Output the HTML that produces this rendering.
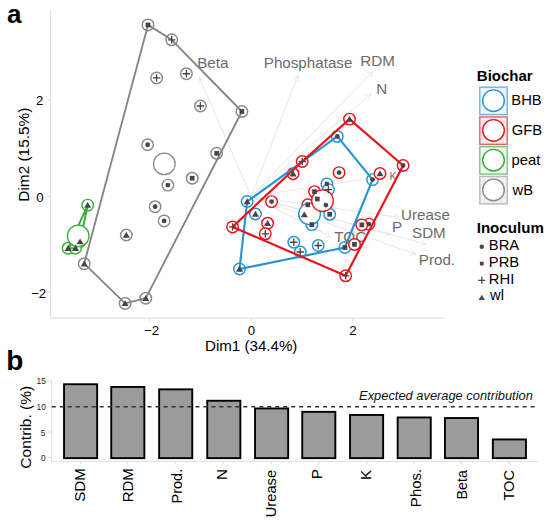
<!DOCTYPE html><html><head><meta charset="utf-8"><style>html,body{margin:0;padding:0;background:#fff;}svg{display:block;}text{font-family:"Liberation Sans",sans-serif;}</style></head><body>
<svg width="550" height="523" viewBox="0 0 550 523">
<rect width="550" height="523" fill="#fff"/>
<text x="7.02" y="22.55" font-size="26" font-weight="bold" fill="#000">a</text>
<text x="6.35" y="369.8" font-size="27.98" font-weight="bold" fill="#000">b</text>
<path d="M50.6 10.3V318.1H444" stroke="#e0e0e0" stroke-width="1.1" fill="none"/>
<path d="M47.4 99.9H50.6" stroke="#e0e0e0" stroke-width="1.1"/>
<text x="36.04" y="105.4" font-size="13.2" fill="#000">2</text>
<path d="M47.4 196.5H50.6" stroke="#e0e0e0" stroke-width="1.1"/>
<text x="36.2" y="201.6" font-size="13.2" fill="#000">0</text>
<path d="M47.4 292.4H50.6" stroke="#e0e0e0" stroke-width="1.1"/>
<text x="31.14" y="298" font-size="13.2" fill="#000">−2</text>
<path d="M149.5 318.1V321.2" stroke="#e0e0e0" stroke-width="1.1"/>
<text x="143.94" y="334.9" font-size="13.2" fill="#000">−2</text>
<path d="M251.2 318.1V321.2" stroke="#e0e0e0" stroke-width="1.1"/>
<text x="247.7" y="334.9" font-size="13.2" fill="#000">0</text>
<path d="M352.8 318.1V321.2" stroke="#e0e0e0" stroke-width="1.1"/>
<text x="349.14" y="334.9" font-size="13.2" fill="#000">2</text>
<text x="204.96" y="350.8" font-size="15.13" fill="#000">Dim1 (34.4%)</text>
<text transform="translate(28.9,201.66) rotate(-90)" font-size="15.38" fill="#000">Dim2 (15.5%)</text>
<path d="M251.2 196.4L199.5 78" stroke="#e2e2e2" stroke-width="0.8" fill="none"/>
<path d="M204.33 81.56L199.5 78L198.83 83.96" stroke="#e2e2e2" stroke-width="0.8" fill="none"/>
<path d="M251.2 196.4L298 75.5" stroke="#e2e2e2" stroke-width="0.8" fill="none"/>
<path d="M298.92 81.43L298 75.5L293.33 79.26" stroke="#e2e2e2" stroke-width="0.8" fill="none"/>
<path d="M251.2 196.4L372.4 71.8" stroke="#e2e2e2" stroke-width="0.8" fill="none"/>
<path d="M370.93 77.62L372.4 71.8L366.63 73.43" stroke="#e2e2e2" stroke-width="0.8" fill="none"/>
<path d="M251.2 196.4L370.9 94.2" stroke="#e2e2e2" stroke-width="0.8" fill="none"/>
<path d="M368.9 99.86L370.9 94.2L365 95.29" stroke="#e2e2e2" stroke-width="0.8" fill="none"/>
<path d="M251.2 196.4L388.5 175.4" stroke="#e2e2e2" stroke-width="0.8" fill="none"/>
<path d="M383.82 179.15L388.5 175.4L382.91 173.22" stroke="#e2e2e2" stroke-width="0.8" fill="none"/>
<path d="M251.2 196.4L398.7 217.3" stroke="#e2e2e2" stroke-width="0.8" fill="none"/>
<path d="M393.13 219.54L398.7 217.3L393.98 213.6" stroke="#e2e2e2" stroke-width="0.8" fill="none"/>
<path d="M251.2 196.4L390.4 234.7" stroke="#e2e2e2" stroke-width="0.8" fill="none"/>
<path d="M384.59 236.21L390.4 234.7L386.19 230.43" stroke="#e2e2e2" stroke-width="0.8" fill="none"/>
<path d="M251.2 196.4L426.2 244.1" stroke="#e2e2e2" stroke-width="0.8" fill="none"/>
<path d="M420.4 245.63L426.2 244.1L421.98 239.84" stroke="#e2e2e2" stroke-width="0.8" fill="none"/>
<path d="M251.2 196.4L415.8 254.2" stroke="#e2e2e2" stroke-width="0.8" fill="none"/>
<path d="M409.9 255.31L415.8 254.2L411.89 249.65" stroke="#e2e2e2" stroke-width="0.8" fill="none"/>
<path d="M251.2 196.4L330.9 236.8" stroke="#e2e2e2" stroke-width="0.8" fill="none"/>
<path d="M324.91 237.13L330.9 236.8L327.62 231.77" stroke="#e2e2e2" stroke-width="0.8" fill="none"/>
<text x="197.15" y="67.6" font-size="15.2" fill="#6b6b6b">Beta</text>
<text x="263.75" y="67.6" font-size="15.2" fill="#6b6b6b">Phosphatase</text>
<text x="360.35" y="66.2" font-size="15.2" fill="#6b6b6b">RDM</text>
<text x="376.15" y="94.2" font-size="15.2" fill="#6b6b6b">N</text>
<text x="400.94" y="219.6" font-size="15.2" fill="#6b6b6b">Urease</text>
<text x="391.95" y="232.4" font-size="15.2" fill="#6b6b6b">P</text>
<text x="412" y="237.8" font-size="15.2" fill="#6b6b6b">SDM</text>
<text x="418.75" y="264.5" font-size="15.2" fill="#6b6b6b">Prod.</text>
<text x="334.37" y="242.3" font-size="15.2" fill="#6b6b6b">TOC</text>
<text x="389.51" y="179.6" font-size="10.8" fill="#6b6b6b">K</text>
<circle cx="148" cy="24.9" r="5.75" fill="#fff" stroke="#8a8a8a" stroke-width="1.45"/>
<circle cx="171.7" cy="39.8" r="5.75" fill="#fff" stroke="#8a8a8a" stroke-width="1.45"/>
<circle cx="156.6" cy="77.9" r="5.75" fill="#fff" stroke="#8a8a8a" stroke-width="1.45"/>
<circle cx="186.4" cy="73.7" r="5.75" fill="#fff" stroke="#8a8a8a" stroke-width="1.45"/>
<circle cx="200.4" cy="106" r="5.75" fill="#fff" stroke="#8a8a8a" stroke-width="1.45"/>
<circle cx="241.9" cy="111.5" r="5.75" fill="#fff" stroke="#8a8a8a" stroke-width="1.45"/>
<circle cx="216.7" cy="153.3" r="5.75" fill="#fff" stroke="#8a8a8a" stroke-width="1.45"/>
<circle cx="192.2" cy="178.2" r="5.75" fill="#fff" stroke="#8a8a8a" stroke-width="1.45"/>
<circle cx="147.6" cy="144.75" r="5.75" fill="#fff" stroke="#8a8a8a" stroke-width="1.45"/>
<circle cx="167.9" cy="185.1" r="5.75" fill="#fff" stroke="#8a8a8a" stroke-width="1.45"/>
<circle cx="155.1" cy="206.7" r="5.75" fill="#fff" stroke="#8a8a8a" stroke-width="1.45"/>
<circle cx="164.1" cy="220.9" r="5.75" fill="#fff" stroke="#8a8a8a" stroke-width="1.45"/>
<circle cx="126.3" cy="235" r="5.75" fill="#fff" stroke="#8a8a8a" stroke-width="1.45"/>
<circle cx="84.2" cy="263.7" r="5.75" fill="#fff" stroke="#8a8a8a" stroke-width="1.45"/>
<circle cx="125.1" cy="303.4" r="5.75" fill="#fff" stroke="#8a8a8a" stroke-width="1.45"/>
<circle cx="145.8" cy="298.2" r="5.75" fill="#fff" stroke="#8a8a8a" stroke-width="1.45"/>
<circle cx="87.7" cy="205.1" r="5.75" fill="#fff" stroke="#36b035" stroke-width="1.45"/>
<circle cx="80.1" cy="241.6" r="5.75" fill="#fff" stroke="#36b035" stroke-width="1.45"/>
<circle cx="68.1" cy="248.2" r="5.75" fill="#fff" stroke="#36b035" stroke-width="1.45"/>
<circle cx="75.5" cy="248.2" r="5.75" fill="#fff" stroke="#36b035" stroke-width="1.45"/>
<circle cx="247.2" cy="201.5" r="5.75" fill="#fff" stroke="#2694d4" stroke-width="1.45"/>
<circle cx="255.5" cy="214" r="5.75" fill="#fff" stroke="#2694d4" stroke-width="1.45"/>
<circle cx="304.3" cy="214.6" r="5.75" fill="#fff" stroke="#2694d4" stroke-width="1.45"/>
<circle cx="239.5" cy="269" r="5.75" fill="#fff" stroke="#2694d4" stroke-width="1.45"/>
<circle cx="337.3" cy="136.4" r="5.75" fill="#fff" stroke="#2694d4" stroke-width="1.45"/>
<circle cx="372.6" cy="179.6" r="5.75" fill="#fff" stroke="#2694d4" stroke-width="1.45"/>
<circle cx="326.9" cy="183.9" r="5.75" fill="#fff" stroke="#2694d4" stroke-width="1.45"/>
<circle cx="325.9" cy="205.1" r="5.75" fill="#fff" stroke="#2694d4" stroke-width="1.45"/>
<circle cx="328.4" cy="189.6" r="5.75" fill="#fff" stroke="#2694d4" stroke-width="1.45"/>
<circle cx="293.8" cy="242.2" r="5.75" fill="#fff" stroke="#2694d4" stroke-width="1.45"/>
<circle cx="300.3" cy="252" r="5.75" fill="#fff" stroke="#2694d4" stroke-width="1.45"/>
<circle cx="318.2" cy="245.5" r="5.75" fill="#fff" stroke="#2694d4" stroke-width="1.45"/>
<circle cx="311.8" cy="224.6" r="5.75" fill="#fff" stroke="#2694d4" stroke-width="1.45"/>
<circle cx="329.7" cy="214.3" r="5.75" fill="#fff" stroke="#2694d4" stroke-width="1.45"/>
<circle cx="344.9" cy="247.5" r="5.75" fill="#fff" stroke="#2694d4" stroke-width="1.45"/>
<circle cx="317.3" cy="199" r="5.75" fill="#fff" stroke="#2694d4" stroke-width="1.45"/>
<circle cx="271.6" cy="201.6" r="5.75" fill="#fff" stroke="#ee1018" stroke-width="1.45"/>
<circle cx="339.1" cy="172.6" r="5.75" fill="#fff" stroke="#ee1018" stroke-width="1.45"/>
<circle cx="403.1" cy="165.5" r="5.75" fill="#fff" stroke="#ee1018" stroke-width="1.45"/>
<circle cx="368.9" cy="224.1" r="5.75" fill="#fff" stroke="#ee1018" stroke-width="1.45"/>
<circle cx="314.5" cy="191.6" r="5.75" fill="#fff" stroke="#ee1018" stroke-width="1.45"/>
<circle cx="307.8" cy="204.8" r="5.75" fill="#fff" stroke="#ee1018" stroke-width="1.45"/>
<circle cx="361.8" cy="224.9" r="5.75" fill="#fff" stroke="#ee1018" stroke-width="1.45"/>
<circle cx="354.5" cy="244.4" r="5.75" fill="#fff" stroke="#ee1018" stroke-width="1.45"/>
<circle cx="267.6" cy="223.2" r="5.75" fill="#fff" stroke="#ee1018" stroke-width="1.45"/>
<circle cx="293.1" cy="173.7" r="5.75" fill="#fff" stroke="#ee1018" stroke-width="1.45"/>
<circle cx="349.5" cy="119.1" r="5.75" fill="#fff" stroke="#ee1018" stroke-width="1.45"/>
<circle cx="380" cy="173.5" r="5.75" fill="#fff" stroke="#ee1018" stroke-width="1.45"/>
<circle cx="232.6" cy="226.9" r="5.75" fill="#fff" stroke="#ee1018" stroke-width="1.45"/>
<circle cx="302.2" cy="161.5" r="5.75" fill="#fff" stroke="#ee1018" stroke-width="1.45"/>
<circle cx="265.3" cy="233.8" r="5.75" fill="#fff" stroke="#ee1018" stroke-width="1.45"/>
<circle cx="345.7" cy="275.8" r="5.75" fill="#fff" stroke="#ee1018" stroke-width="1.45"/>
<path d="M148 24.9L171.7 39.8L241.9 111.5L145.8 298.2L125.1 303.4L84.2 263.7Z" stroke="#858585" stroke-width="1.85" fill="none" stroke-linejoin="round"/>
<path d="M87.7 205.1L68.1 248.2L75.5 248.2L80.1 241.6Z" stroke="#36b035" stroke-width="2.0" fill="none" stroke-linejoin="round"/>
<path d="M239.5 269L344.9 247.5L372.6 179.6L337.3 136.4L247.2 201.5Z" stroke="#2694d4" stroke-width="2.15" fill="none" stroke-linejoin="round"/>
<path d="M232.6 226.9L302.2 161.5L349.5 119.1L403.1 165.5L345.7 275.8Z" stroke="#ee1018" stroke-width="2.15" fill="none" stroke-linejoin="round"/>
<circle cx="309.6" cy="213.9" r="10.8" fill="#fff" stroke="#2694d4" stroke-width="1.3"/>
<circle cx="322.5" cy="200.7" r="10.8" fill="#fff" stroke="#ee1018" stroke-width="1.3"/>
<circle cx="78.2" cy="235.9" r="10.8" fill="#fff" stroke="#36b035" stroke-width="1.3"/>
<circle cx="164.3" cy="163.9" r="10.8" fill="#fff" stroke="#8a8a8a" stroke-width="1.3"/>
<rect x="145.65" y="22.55" width="4.7" height="4.7" fill="#454545"/>
<path d="M168 39.8H175.4M171.7 36.1V43.5" stroke="#454545" stroke-width="1.35" fill="none"/>
<path d="M152.9 77.9H160.3M156.6 74.2V81.6" stroke="#454545" stroke-width="1.35" fill="none"/>
<path d="M182.7 73.7H190.1M186.4 70V77.4" stroke="#454545" stroke-width="1.35" fill="none"/>
<path d="M196.7 106H204.1M200.4 102.3V109.7" stroke="#454545" stroke-width="1.35" fill="none"/>
<rect x="239.55" y="109.15" width="4.7" height="4.7" fill="#454545"/>
<rect x="214.35" y="150.95" width="4.7" height="4.7" fill="#454545"/>
<rect x="189.85" y="175.85" width="4.7" height="4.7" fill="#454545"/>
<circle cx="147.6" cy="144.75" r="2.4" fill="#454545"/>
<circle cx="167.9" cy="185.1" r="2.4" fill="#454545"/>
<circle cx="155.1" cy="206.7" r="2.4" fill="#454545"/>
<circle cx="164.1" cy="220.9" r="2.4" fill="#454545"/>
<path d="M126.3 231.8L129.82 237.72L122.78 237.72Z" fill="#454545"/>
<path d="M84.2 260.5L87.72 266.42L80.68 266.42Z" fill="#454545"/>
<path d="M125.1 300.2L128.62 306.12L121.58 306.12Z" fill="#454545"/>
<path d="M145.8 295L149.32 300.92L142.28 300.92Z" fill="#454545"/>
<path d="M87.7 201.9L91.22 207.82L84.18 207.82Z" fill="#454545"/>
<path d="M80.1 238.4L83.62 244.32L76.58 244.32Z" fill="#454545"/>
<path d="M68.1 245L71.62 250.92L64.58 250.92Z" fill="#454545"/>
<path d="M75.5 245L79.02 250.92L71.98 250.92Z" fill="#454545"/>
<path d="M247.2 198.3L250.72 204.22L243.68 204.22Z" fill="#454545"/>
<path d="M255.5 210.8L259.02 216.72L251.98 216.72Z" fill="#454545"/>
<path d="M304.3 211.4L307.82 217.32L300.78 217.32Z" fill="#454545"/>
<path d="M239.5 265.8L243.02 271.72L235.98 271.72Z" fill="#454545"/>
<circle cx="337.3" cy="136.4" r="2.4" fill="#454545"/>
<circle cx="372.6" cy="179.6" r="2.4" fill="#454545"/>
<circle cx="326.9" cy="183.9" r="2.4" fill="#454545"/>
<circle cx="325.9" cy="205.1" r="2.4" fill="#454545"/>
<path d="M324.7 189.6H332.1M328.4 185.9V193.3" stroke="#454545" stroke-width="1.35" fill="none"/>
<path d="M290.1 242.2H297.5M293.8 238.5V245.9" stroke="#454545" stroke-width="1.35" fill="none"/>
<path d="M296.6 252H304M300.3 248.3V255.7" stroke="#454545" stroke-width="1.35" fill="none"/>
<path d="M314.5 245.5H321.9M318.2 241.8V249.2" stroke="#454545" stroke-width="1.35" fill="none"/>
<rect x="309.45" y="222.25" width="4.7" height="4.7" fill="#454545"/>
<rect x="327.35" y="211.95" width="4.7" height="4.7" fill="#454545"/>
<rect x="342.55" y="245.15" width="4.7" height="4.7" fill="#454545"/>
<rect x="314.95" y="196.65" width="4.7" height="4.7" fill="#454545"/>
<circle cx="271.6" cy="201.6" r="2.4" fill="#454545"/>
<circle cx="339.1" cy="172.6" r="2.4" fill="#454545"/>
<circle cx="403.1" cy="165.5" r="2.4" fill="#454545"/>
<circle cx="368.9" cy="224.1" r="2.4" fill="#454545"/>
<rect x="312.15" y="189.25" width="4.7" height="4.7" fill="#454545"/>
<rect x="305.45" y="202.45" width="4.7" height="4.7" fill="#454545"/>
<rect x="359.45" y="222.55" width="4.7" height="4.7" fill="#454545"/>
<rect x="352.15" y="242.05" width="4.7" height="4.7" fill="#454545"/>
<path d="M267.6 220L271.12 225.92L264.08 225.92Z" fill="#454545"/>
<path d="M293.1 170.5L296.62 176.42L289.58 176.42Z" fill="#454545"/>
<path d="M349.5 115.9L353.02 121.82L345.98 121.82Z" fill="#454545"/>
<path d="M380 170.3L383.52 176.22L376.48 176.22Z" fill="#454545"/>
<path d="M228.9 226.9H236.3M232.6 223.2V230.6" stroke="#454545" stroke-width="1.35" fill="none"/>
<path d="M298.5 161.5H305.9M302.2 157.8V165.2" stroke="#454545" stroke-width="1.35" fill="none"/>
<path d="M261.6 233.8H269M265.3 230.1V237.5" stroke="#454545" stroke-width="1.35" fill="none"/>
<path d="M342 275.8H349.4M345.7 272.1V279.5" stroke="#454545" stroke-width="1.35" fill="none"/>
<text x="476.81" y="80.9" font-size="15.02" font-weight="bold" fill="#000">Biochar</text>
<rect x="479.8" y="87.2" width="27.4" height="27.4" fill="#eef4f8" stroke="#6ab5e3" stroke-width="1.4"/>
<circle cx="493.5" cy="100.7" r="10.8" fill="#fff" stroke="#2694d4" stroke-width="1.4"/>
<text x="511.29" y="105" font-size="14.8" fill="#000">BHB</text>
<rect x="479.8" y="116.95" width="27.4" height="27.4" fill="#f6eded" stroke="#ec5f62" stroke-width="1.4"/>
<circle cx="493.5" cy="130.45" r="10.8" fill="#fff" stroke="#ee1018" stroke-width="1.4"/>
<text x="511.76" y="134.9" font-size="14.8" fill="#000">GFB</text>
<rect x="479.8" y="146.7" width="27.4" height="27.4" fill="#eff5ef" stroke="#7cc581" stroke-width="1.4"/>
<circle cx="493.5" cy="160.2" r="10.8" fill="#fff" stroke="#36b035" stroke-width="1.4"/>
<text x="511.55" y="164.5" font-size="14.8" fill="#000">peat</text>
<rect x="479.8" y="176.45" width="27.4" height="27.4" fill="#f0f0f0" stroke="#b9b9b9" stroke-width="1.4"/>
<circle cx="493.5" cy="189.95" r="10.8" fill="#fff" stroke="#8a8a8a" stroke-width="1.4"/>
<text x="512.53" y="195.1" font-size="14.8" fill="#000">wB</text>
<text x="476.7" y="232.8" font-size="15.12" font-weight="bold" fill="#000">Inoculum</text>
<circle cx="481.8" cy="246.8" r="2.26" fill="#4a4a4a"/>
<text x="488.79" y="249.6" font-size="14.8" fill="#000">BRA</text>
<rect x="479.92" y="261.72" width="3.76" height="3.76" fill="#4a4a4a"/>
<text x="488.79" y="266.8" font-size="14.8" fill="#000">PRB</text>
<path d="M478.29 280.3H485.31M481.8 276.79V283.81" stroke="#4a4a4a" stroke-width="1.35" fill="none"/>
<text x="488.79" y="284.1" font-size="14.8" fill="#000">RHI</text>
<path d="M481.8 294.72L484.97 300.05L478.63 300.05Z" fill="#4a4a4a"/>
<text x="490.03" y="300.1" font-size="14.8" fill="#000">wl</text>
<path d="M51.5 379.6V461.5H538.3" stroke="#e0e0e0" stroke-width="1.1" fill="none"/>
<path d="M48 457.6H51.5" stroke="#e0e0e0" stroke-width="1.1"/>
<text x="40.88" y="460.7" font-size="8.3" fill="#1e1e1e">0</text>
<path d="M48 432H51.5" stroke="#e0e0e0" stroke-width="1.1"/>
<text x="40.87" y="435.5" font-size="8.3" fill="#1e1e1e">5</text>
<path d="M48 406.9H51.5" stroke="#e0e0e0" stroke-width="1.1"/>
<text x="36.57" y="409.9" font-size="8.3" fill="#1e1e1e">10</text>
<path d="M48 381.3H51.5" stroke="#e0e0e0" stroke-width="1.1"/>
<text x="36.57" y="384.3" font-size="8.3" fill="#1e1e1e">15</text>
<text transform="translate(30.7,468.68) rotate(-90)" font-size="15.54" fill="#000">Contrib. (%)</text>
<rect x="64.05" y="384.25" width="33.1" height="73.9" fill="#9b9b9b" stroke="#000" stroke-width="1.9"/>
<path d="M80.55 461.5V464.5" stroke="#e0e0e0" stroke-width="1.1"/>
<rect x="111.25" y="386.95" width="33.1" height="71.2" fill="#9b9b9b" stroke="#000" stroke-width="1.9"/>
<path d="M127.75 461.5V464.5" stroke="#e0e0e0" stroke-width="1.1"/>
<rect x="159.15" y="389.35" width="33.1" height="68.8" fill="#9b9b9b" stroke="#000" stroke-width="1.9"/>
<path d="M175.65 461.5V464.5" stroke="#e0e0e0" stroke-width="1.1"/>
<rect x="207.25" y="400.75" width="33.1" height="57.4" fill="#9b9b9b" stroke="#000" stroke-width="1.9"/>
<path d="M223.75 461.5V464.5" stroke="#e0e0e0" stroke-width="1.1"/>
<rect x="255.05" y="408.45" width="33.1" height="49.7" fill="#9b9b9b" stroke="#000" stroke-width="1.9"/>
<path d="M271.55 461.5V464.5" stroke="#e0e0e0" stroke-width="1.1"/>
<rect x="302.25" y="411.85" width="33.1" height="46.3" fill="#9b9b9b" stroke="#000" stroke-width="1.9"/>
<path d="M318.75 461.5V464.5" stroke="#e0e0e0" stroke-width="1.1"/>
<rect x="350.05" y="414.95" width="33.1" height="43.2" fill="#9b9b9b" stroke="#000" stroke-width="1.9"/>
<path d="M366.55 461.5V464.5" stroke="#e0e0e0" stroke-width="1.1"/>
<rect x="397.65" y="417.45" width="33.1" height="40.7" fill="#9b9b9b" stroke="#000" stroke-width="1.9"/>
<path d="M414.15 461.5V464.5" stroke="#e0e0e0" stroke-width="1.1"/>
<rect x="444.95" y="418.05" width="33.1" height="40.1" fill="#9b9b9b" stroke="#000" stroke-width="1.9"/>
<path d="M461.45 461.5V464.5" stroke="#e0e0e0" stroke-width="1.1"/>
<rect x="492.85" y="439.45" width="33.1" height="18.7" fill="#9b9b9b" stroke="#000" stroke-width="1.9"/>
<path d="M509.35 461.5V464.5" stroke="#e0e0e0" stroke-width="1.1"/>
<path d="M51.8 406.8H535" stroke="#333" stroke-width="1.55" stroke-dasharray="4 3.98" fill="none"/>
<text transform="translate(84.9,501.8) rotate(-90)" font-size="15.12" fill="#000">SDM</text>
<text transform="translate(132.6,502.33) rotate(-90)" font-size="15" fill="#000">RDM</text>
<text transform="translate(182.3,503.49) rotate(-90)" font-size="14.53" fill="#000">Prod.</text>
<text transform="translate(227.3,479.96) rotate(-90)" font-size="15.4" fill="#000">N</text>
<text transform="translate(275.7,517.21) rotate(-90)" font-size="14.66" fill="#000">Urease</text>
<text transform="translate(322.3,479.16) rotate(-90)" font-size="15.4" fill="#000">P</text>
<text transform="translate(370.6,479.96) rotate(-90)" font-size="15.4" fill="#000">K</text>
<text transform="translate(420.7,507.13) rotate(-90)" font-size="15.02" fill="#000">Phos.</text>
<text transform="translate(467,499.47) rotate(-90)" font-size="14.27" fill="#000">Beta</text>
<text transform="translate(514,500.62) rotate(-90)" font-size="14.62" fill="#000">TOC</text>
<text x="359.11" y="399.6" font-size="12.86" font-style="italic" fill="#111">Expected average contribution</text>
</svg></body></html>
